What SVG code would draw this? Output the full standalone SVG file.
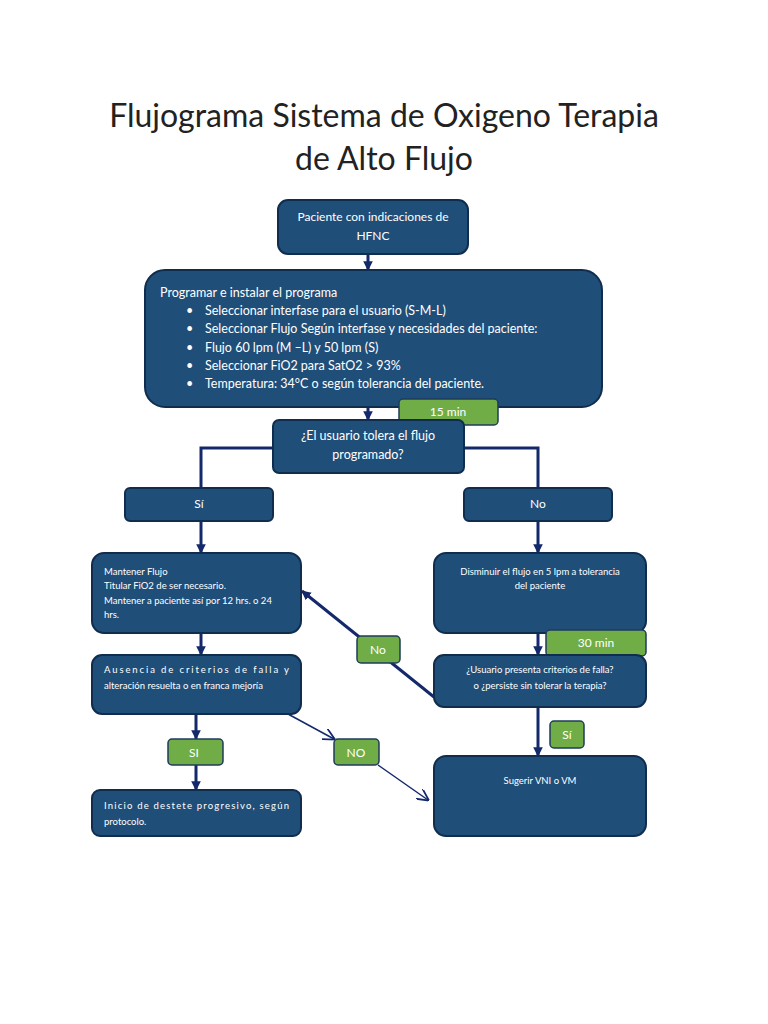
<svg xmlns="http://www.w3.org/2000/svg" width="768" height="1024" viewBox="0 0 768 1024">
<style>
.b{fill:#1f4e79;stroke:#112d4e;stroke-width:2}
.g{fill:#70ad47;stroke:#1f3b5c;stroke-width:1.5}
.t{font-family:Lato,"Open Sans",sans-serif;fill:#fff}
.c{stroke:#14296b;stroke-width:3;fill:none}
.ct{stroke:#14296b;stroke-width:1.5;fill:none}
</style>
<defs>
<marker id="a" viewBox="0 0 10 10" refX="9" refY="5" markerWidth="3.2" markerHeight="3.2" orient="auto"><path d="M0,0 L10,5 L0,10 z" fill="#14296b"/></marker>
<marker id="o" viewBox="0 0 10 10" refX="9" refY="5" markerWidth="8" markerHeight="8" orient="auto"><path d="M0,0 L10,5 L0,10" fill="none" stroke="#14296b" stroke-width="1.5"/></marker>
</defs>
<rect width="768" height="1024" fill="#fff"/>
<g id="title" font-family="Lato,'Open Sans',sans-serif" font-size="32" fill="#222" text-anchor="middle">
<text x="384" y="127">Flujograma Sistema de Oxigeno Terapia</text>
<text x="384" y="170">de Alto Flujo</text>
</g>
<g id="connectors">
<path class="c" d="M368,254 V270" marker-end="url(#a)"/>
<path class="c" d="M368,407 V420" marker-end="url(#a)"/>
<path class="c" d="M273,448 H201 V488"/>
<path class="c" d="M464,448 H538 V488"/>
<path class="c" d="M201,521 V553" marker-end="url(#a)"/>
<path class="c" d="M538,521 V553" marker-end="url(#a)"/>
<path class="c" d="M201,633 V655" marker-end="url(#a)"/>
<path class="c" d="M538,633 V655" marker-end="url(#a)"/>
<path class="c" d="M434,697 L302,591" marker-end="url(#a)"/>
<path class="c" d="M538,707 V756" marker-end="url(#a)"/>
<path class="c" d="M196,714 V739" marker-end="url(#a)"/>
<path class="c" d="M196,765 V790" marker-end="url(#a)"/>
<path class="ct" d="M288,714 L334,739" marker-end="url(#o)"/>
<path class="ct" d="M378,765 L428,800" marker-end="url(#o)"/>
</g>
<g id="n1"><rect class="b" x="278" y="200" width="190" height="54" rx="10"/>
<text class="t" font-size="12" text-anchor="middle"><tspan x="373" y="221">Paciente con indicaciones de</tspan><tspan x="373" y="240">HFNC</tspan></text></g>
<g id="n2"><rect class="b" x="145" y="270" width="457" height="137" rx="20"/>
<text class="t" font-size="12.5" x="160" y="297">Programar e instalar el programa</text>
<g class="t" font-size="12.5">
<text x="186" y="315">•</text><text x="205" y="315">Seleccionar interfase para el usuario (S-M-L)</text>
<text x="186" y="333">•</text><text x="205" y="333">Seleccionar Flujo Según interfase y necesidades del paciente:</text>
<text x="186" y="352">•</text><text x="205" y="352">Flujo 60 lpm (M –L) y 50 lpm (S)</text>
<text x="186" y="370">•</text><text x="205" y="370">Seleccionar FiO2 para SatO2 &gt; 93%</text>
<text x="186" y="388">•</text><text x="205" y="388">Temperatura: 34°C o según tolerancia del paciente.</text>
</g></g>
<g id="g15"><rect class="g" x="399" y="399" width="99" height="26" rx="4"/><text class="t" font-size="12" x="448" y="416" text-anchor="middle">15 min</text></g>
<g id="n3"><rect class="b" x="273" y="420" width="191" height="53" rx="6"/>
<text class="t" font-size="12.5" text-anchor="middle"><tspan x="368" y="440">¿El usuario tolera el flujo</tspan><tspan x="368" y="459">programado?</tspan></text></g>
<g id="si"><rect class="b" x="125" y="488" width="148" height="33" rx="5"/><text class="t" font-size="12" x="199" y="508" text-anchor="middle">Sí</text></g>
<g id="no"><rect class="b" x="464" y="488" width="148" height="33" rx="5"/><text class="t" font-size="12" x="538" y="508" text-anchor="middle">No</text></g>
<g id="n4"><rect class="b" x="92" y="553" width="209" height="80" rx="12"/>
<text class="t" font-size="9.5"><tspan x="104" y="575">Mantener Flujo</tspan><tspan x="104" y="589">Titular FiO2 de ser necesario.</tspan><tspan x="104" y="604">Mantener a paciente así por 12 hrs. o 24</tspan><tspan x="104" y="618">hrs.</tspan></text></g>
<g id="n5"><rect class="b" x="434" y="553" width="212" height="80" rx="12"/>
<text class="t" font-size="9.5" text-anchor="middle"><tspan x="540" y="575">Disminuir el flujo en 5 lpm a tolerancia</tspan><tspan x="540" y="589">del paciente</tspan></text></g>
<g id="n6"><rect class="b" x="92" y="655" width="209" height="59" rx="10"/>
<text class="t" font-size="9.5"><tspan x="104" y="673" textLength="185" lengthAdjust="spacing">Ausencia de criterios de falla y</tspan><tspan x="104" y="689">alteración resuelta o en franca mejoría</tspan></text></g>
<g id="g30"><rect class="g" x="546" y="630" width="100" height="26" rx="4"/><text class="t" font-size="12" x="596" y="647" text-anchor="middle">30 min</text></g>
<g id="n7"><rect class="b" x="434" y="655" width="212" height="52" rx="10"/>
<text class="t" font-size="9.5" text-anchor="middle"><tspan x="540" y="673">¿Usuario presenta criterios de falla?</tspan><tspan x="540" y="689">o ¿persiste sin tolerar la terapia?</tspan></text></g>
<g id="gno1"><rect class="g" x="357" y="636" width="43" height="27" rx="4"/><text class="t" font-size="12" x="378" y="654" text-anchor="middle">No</text></g>
<g id="gsi2"><rect class="g" x="550" y="721" width="34" height="27" rx="4"/><text class="t" font-size="12" x="567" y="739" text-anchor="middle">Sí</text></g>
<g id="gsi1"><rect class="g" x="168" y="739" width="55" height="26" rx="4"/><text class="t" font-size="12" x="194" y="757" text-anchor="middle">SI</text></g>
<g id="gno2"><rect class="g" x="334" y="739" width="45" height="26" rx="4"/><text class="t" font-size="12" x="356" y="757" text-anchor="middle">NO</text></g>
<g id="n8"><rect class="b" x="92" y="790" width="209" height="46" rx="8"/>
<text class="t" font-size="9.5"><tspan x="104" y="809" textLength="185" lengthAdjust="spacing">Inicio de destete progresivo, según</tspan><tspan x="104" y="825">protocolo.</tspan></text></g>
<g id="n9"><rect class="b" x="434" y="756" width="212" height="80" rx="12"/>
<text class="t" font-size="9.5" x="540" y="784" text-anchor="middle">Sugerir VNI o VM</text></g>
</svg>
